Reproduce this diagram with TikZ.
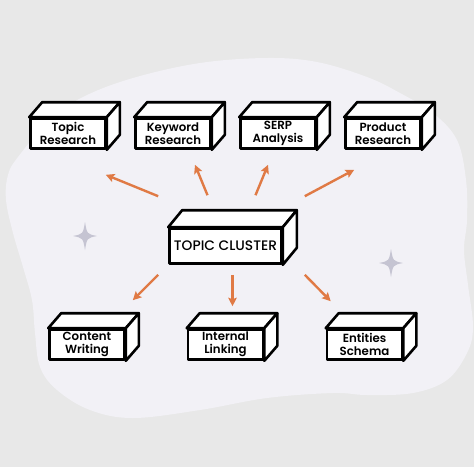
\documentclass[tikz,border=0pt]{standalone}
\usepackage{fontspec}
\setmainfont{Poppins SemiBold}
\newfontfamily\mediumfont{Poppins Medium}
\usepackage{tikz}
\usetikzlibrary{arrows.meta,calc,positioning}
\definecolor{bggray}{HTML}{E8E8E8}
\definecolor{blobcol}{HTML}{F2F1F6}
\definecolor{arrowcol}{HTML}{E07A45}
\definecolor{sparkcol}{HTML}{C5C4D2}
\tikzstyle{box}   =[draw=black, fill=white, line width=2.6pt, line join=round,
                    minimum width=75pt, minimum height=30pt, inner sep=0pt,
                    align=center, font=\fontsize{11.8}{12.7}\selectfont]
\tikzstyle{face}  =[draw=black, fill=white, line width=2.6pt, line join=round]
\tikzstyle{link}  =[draw=arrowcol, line width=2.4pt,
                    -{Stealth[length=8.5pt,width=8.5pt,inset=1.5pt]}]

\begin{document}
\begin{tikzpicture}[x=1pt, y=-1pt, on grid, node distance=105pt]
    % background and blob
    \fill[bggray] (0,0) rectangle (474,467);
    \useasboundingbox (0,0) rectangle (474,467);
    \fill[blobcol] plot[smooth cycle, tension=0.6] coordinates {(8,175) (18,157)
        (50,120) (83,97) (133,78) (200,63) (267,58) (317,62) (367,77) (400,93)
        (433,113) (457,140) (466,180) (467,220) (464,250) (468,285) (473,327)
        (467,353) (447,380) (413,393) (367,395) (333,393) (267,398) (200,410)
        (133,418) (90,410) (57,390) (40,367) (35,333) (32,300) (23,267) (13,233)
        (6,200)};
    % sparkles
    \foreach \x/\y in {85/236, 391/263}
        \fill[sparkcol] (\x,\y-14) .. controls (\x+2,\y-2) .. (\x+12,\y)
            .. controls (\x+2,\y+2) .. (\x,\y+14) .. controls (\x-2,\y+2) ..
            (\x-12,\y) .. controls (\x-2,\y-2) .. cycle;
    % nodes
    \node (tr) [box] at (68,133.5) {Topic\\Research};
    \node (kr) [box, right=of tr] {Keyword\\Research};
    \node (sa) [box, right=of kr] {SERP\\Analysis};
    \node (pr) [box, right=of sa] {Product\\Research};
    \node (tc) [box, minimum width=112pt, minimum height=35pt,
        font=\mediumfont\fontsize{13.8}{15}\selectfont] at (225.5,246) {TOPIC CLUSTER};
    \node (cw) [box] at (87,344.5) {Content\\Writing};
    \node (il) [box, right=138.5pt of cw] {Internal\\Linking};
    \node (es) [box, right=139pt of il] {Entities\\Schema};
    % depth faces
    \foreach \n in {tr,kr,sa,pr,cw,il,es} {
        \draw[face] (\n.north west) -- ++(13,-15) -- ([shift={(13,-15)}]\n.north east)
            -- (\n.north east) -- cycle;
        \draw[face] (\n.north east) -- ++(13,-15) -- ([shift={(13,-15)}]\n.south east)
            -- (\n.south east) -- cycle;
    }
    \draw[face] (tc.north west) -- ++(14,-17) -- ([shift={(14,-17)}]tc.north east)
        -- (tc.north east) -- cycle;
    \draw[face] (tc.north east) -- ++(14,-17) -- ([shift={(14,-17)}]tc.south east)
        -- (tc.south east) -- cycle;
    % links
    \draw[link] ([shift={(-10,-31)}]tc.north west) -- ([shift={(-1,25)}]tr.south east);
    \draw[link] ([shift={(-18,-32)}]tc.north) -- ([shift={(22,15)}]kr.south);
    \draw[link] ([shift={(30,-32)}]tc.north) -- ([shift={(-10,15)}]sa.south);
    \draw[link] ([shift={(22,-31)}]tc.north east) -- ([shift={(10,20)}]pr.south west);
    \draw[link] ([shift={(-10,10)}]tc.south west) -- ([shift={(7,-28)}]cw.north east);
    \draw[link] ([shift={(7,10)}]tc.south) -- ([shift={(7,-22)}]il.north);
    \draw[link] ([shift={(22,10)}]tc.south east) -- ([shift={(5,-27)}]es.north west);
\end{tikzpicture}
\end{document}
